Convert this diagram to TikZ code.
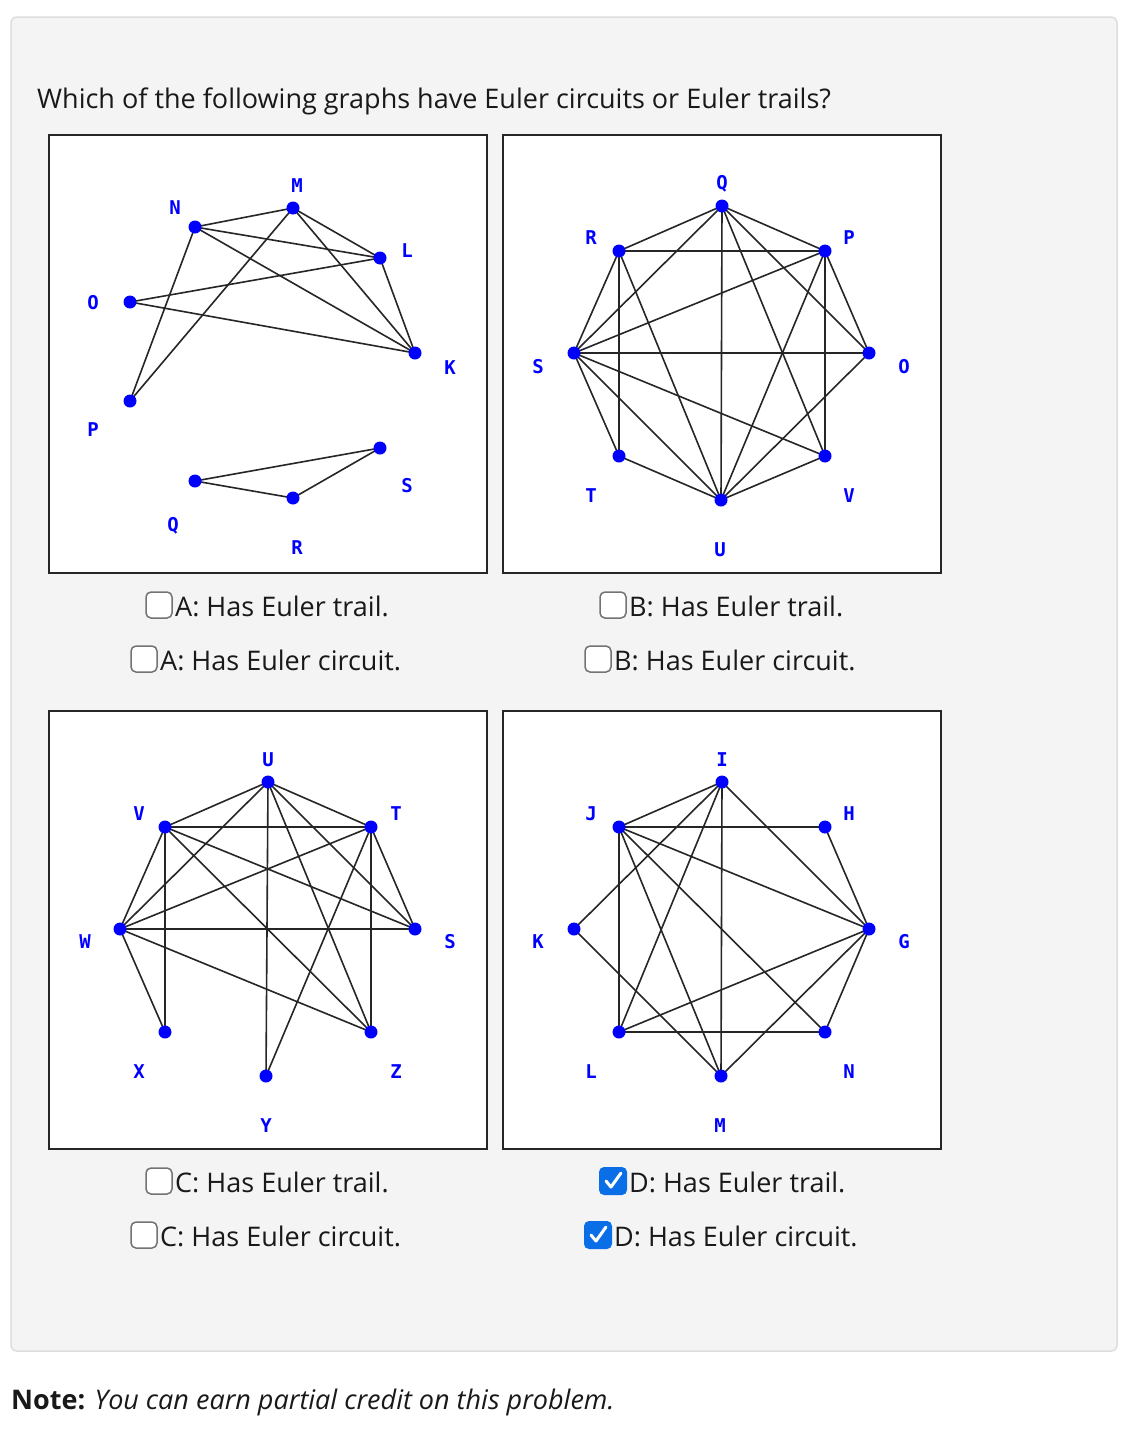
\documentclass[tikz,border=0pt]{standalone}
\usepackage{fontspec}
\setmainfont{Open Sans}
\newfontfamily\lblfont{DejaVu Sans Mono}
\begin{document}
\begin{tikzpicture}[x=1pt,y=-1pt,
  vtx/.style={circle,fill=blue,inner sep=0pt,minimum size=13pt},
  lbl/.style={font=\lblfont\bfseries\fontsize{19}{19}\selectfont,text=blue,inner sep=0pt},
  edge/.style={draw=black!85,line width=1.6pt},
  panel/.style={draw=black!85,line width=1.5pt,fill=white},
  txt/.style={font=\fontsize{27}{32}\selectfont,anchor=west,inner sep=0pt,text=black!90},
  cbox/.style={draw=black!55,line width=1.5pt,rounded corners=5pt,fill=white,minimum size=26pt,inner sep=0pt},
  cboxon/.style={fill={rgb,255:red,10;green,110;blue,230},rounded corners=5pt,minimum size=28pt,inner sep=0pt}]
\useasboundingbox (0,0) rectangle (1134,1430);
\fill[white] (0,0) rectangle (1134,1430);
\draw[fill={rgb,255:red,244;green,244;blue,244},draw={rgb,255:red,221;green,221;blue,221},line width=1.5pt,rounded corners=6pt] (11,17) rectangle (1117,1351);
\node[txt] (title) at (37,101) {Which of the following graphs have Euler circuits or Euler trails?};
\draw[panel] (49,135) rectangle (487,573);
\draw[panel] (503,135) rectangle (941,573);
\draw[panel] (49,711) rectangle (487,1149);
\draw[panel] (503,711) rectangle (941,1149);
% Graph A
\begin{scope}
\coordinate (aN) at (195,227); \coordinate (aM) at (293,208); \coordinate (aL) at (380,258);
\coordinate (aO) at (130,302); \coordinate (aK) at (415,353); \coordinate (aP) at (130,401);
\coordinate (aQ) at (195,481); \coordinate (aR) at (293,498); \coordinate (aS) at (380,448);
\foreach \a/\b in {N/M,N/L,N/K,N/P,M/L,M/K,M/P,O/L,O/K,L/K,Q/S,Q/R,R/S} \draw[edge] (a\a) -- (a\b);
\foreach \v in {N,M,L,O,K,P,Q,R,S} \node[vtx] (va\v) at (a\v) {};
\node[lbl] (la1) at (297,186) {M}; \node[lbl] (la2) at (175,208) {N}; \node[lbl] (la3) at (407,251) {L};
\node[lbl] (la4) at (93,303) {O}; \node[lbl] (la5) at (450,368) {K}; \node[lbl] (la6) at (93,430) {P};
\node[lbl] (la7) at (407,486) {S}; \node[lbl] (la8) at (173,526) {Q}; \node[lbl] (la9) at (297,548) {R};
\end{scope}
% Graph B
\begin{scope}
\coordinate (bQ) at (722,206); \coordinate (bR) at (619,251); \coordinate (bP) at (825,251);
\coordinate (bS) at (574,353); \coordinate (bO) at (869,353); \coordinate (bT) at (619,456);
\coordinate (bV) at (825,456); \coordinate (bU) at (721,500);
\foreach \a/\b in {Q/R,Q/P,Q/S,Q/U,Q/V,Q/O,R/P,R/S,R/T,R/U,P/S,P/O,P/V,P/U,S/O,S/T,S/U,S/V,O/U,T/U,V/U} \draw[edge] (b\a) -- (b\b);
\foreach \v in {Q,R,P,S,O,T,V,U} \node[vtx] (vb\v) at (b\v) {};
\node[lbl] (lb1) at (722,184) {Q}; \node[lbl] (lb2) at (591,238) {R}; \node[lbl] (lb3) at (849,238) {P};
\node[lbl] (lb4) at (538,367) {S}; \node[lbl] (lb5) at (904,367) {O}; \node[lbl] (lb6) at (591,496) {T};
\node[lbl] (lb7) at (849,496) {V}; \node[lbl] (lb8) at (720,550) {U};
\end{scope}
% Graph C
\begin{scope}
\coordinate (cU) at (268,782); \coordinate (cV) at (165,827); \coordinate (cT) at (371,827);
\coordinate (cW) at (120,929); \coordinate (cS) at (415,929); \coordinate (cX) at (165,1032);
\coordinate (cZ) at (371,1032); \coordinate (cY) at (266,1076);
\foreach \a/\b in {U/V,U/T,U/W,U/Y,U/S,U/Z,V/T,V/W,V/X,V/S,V/Z,T/W,T/S,T/Z,T/Y,W/S,W/X,W/Z} \draw[edge] (c\a) -- (c\b);
\foreach \v in {U,V,T,W,S,X,Z,Y} \node[vtx] (vc\v) at (c\v) {};
\node[lbl] (lc1) at (268,760) {U}; \node[lbl] (lc2) at (139,814) {V}; \node[lbl] (lc3) at (396,814) {T};
\node[lbl] (lc4) at (85,942) {W}; \node[lbl] (lc5) at (450,942) {S}; \node[lbl] (lc6) at (139,1072) {X};
\node[lbl] (lc7) at (396,1072) {Z}; \node[lbl] (lc8) at (266,1126) {Y};
\end{scope}
% Graph D
\begin{scope}
\coordinate (dI) at (722,782); \coordinate (dJ) at (619,827); \coordinate (dH) at (825,827);
\coordinate (dK) at (574,929); \coordinate (dG) at (869,929); \coordinate (dL) at (619,1032);
\coordinate (dN) at (825,1032); \coordinate (dM) at (721,1076);
\foreach \a/\b in {I/J,I/K,I/L,I/M,I/G,J/H,J/L,J/G,J/M,J/N,H/G,K/M,G/L,G/M,G/N,L/N} \draw[edge] (d\a) -- (d\b);
\foreach \v in {I,J,H,K,G,L,N,M} \node[vtx] (vd\v) at (d\v) {};
\node[lbl] (ld1) at (722,760) {I}; \node[lbl] (ld2) at (591,814) {J}; \node[lbl] (ld3) at (849,814) {H};
\node[lbl] (ld4) at (538,942) {K}; \node[lbl] (ld5) at (904,942) {G}; \node[lbl] (ld6) at (591,1072) {L};
\node[lbl] (ld7) at (849,1072) {N}; \node[lbl] (ld8) at (720,1126) {M};
\end{scope}
% checkboxes
\node[cbox] (c1) at (159,605) {}; \node[txt] (t1) at (175,606) {A: Has Euler trail.};
\node[cbox] (c2) at (144,659) {}; \node[txt] (t2) at (160,660) {A: Has Euler circuit.};
\node[cbox] (c3) at (613,605) {}; \node[txt] (t3) at (629,606) {B: Has Euler trail.};
\node[cbox] (c4) at (598,659) {}; \node[txt] (t4) at (614,660) {B: Has Euler circuit.};
\node[cbox] (c5) at (159,1181) {}; \node[txt] (t5) at (175,1182) {C: Has Euler trail.};
\node[cbox] (c6) at (144,1235) {}; \node[txt] (t6) at (160,1236) {C: Has Euler circuit.};
\node[cboxon] (c7) at (613,1181) {}; \node[txt] (t7) at (629,1182) {D: Has Euler trail.};
\node[cboxon] (c8) at (598,1235) {}; \node[txt] (t8) at (614,1236) {D: Has Euler circuit.};
\foreach \c in {c7,c8} \draw[white,line width=3pt,line cap=round,line join=round] ([shift={(-7,0)}]\c.center) -- ([shift={(-2,6)}]\c.center) -- ([shift={(8,-8)}]\c.center);
\node[txt] (note) at (11,1402) {\textbf{Note:} \textit{You can earn partial credit on this problem.}};
\end{tikzpicture}
\end{document}
